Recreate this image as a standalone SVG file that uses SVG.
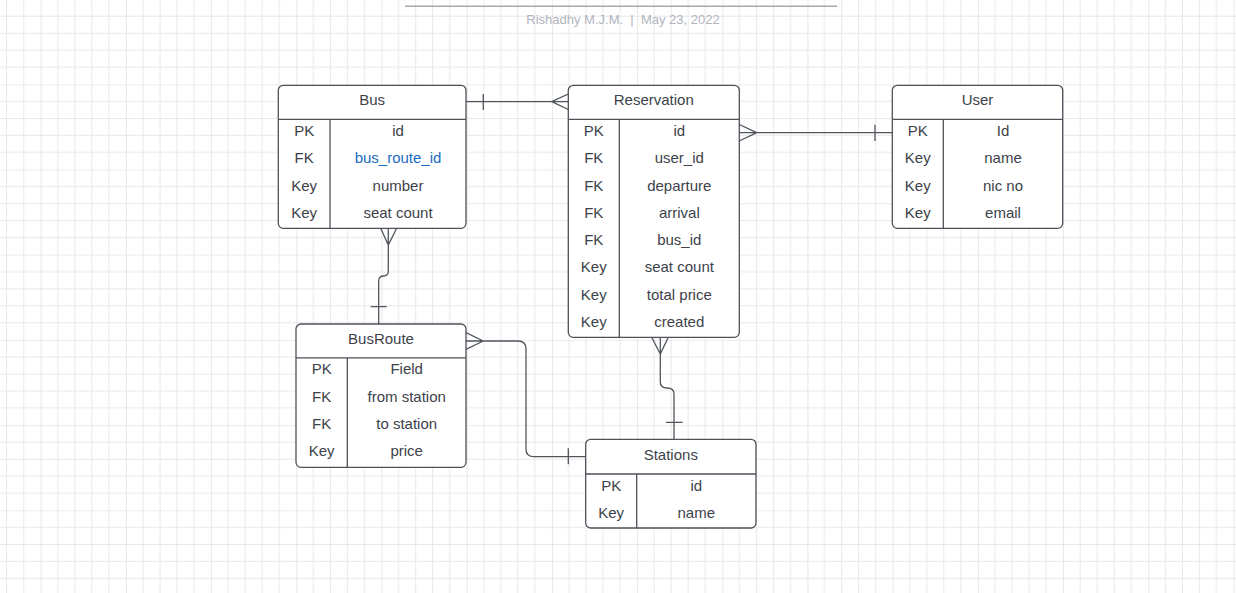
<svg xmlns="http://www.w3.org/2000/svg" width="1236" height="593" viewBox="0 0 1236 593">
<style>
.box{fill:#ffffff;stroke:#4d525a;stroke-width:1.3}
.sep{stroke:#4d525a;stroke-width:1.3;fill:none}
.t{font-family:"Liberation Sans",Arial,sans-serif;font-size:15px;fill:#3d424a;text-anchor:middle}
.lnk{fill:#1b6cc2}
.con{fill:none;stroke:#50555d;stroke-width:1.3}
.sub{font-family:"Liberation Sans",Arial,sans-serif;font-size:13px;fill:#b1b5be;text-anchor:middle;white-space:pre}
</style>
<defs>
<pattern id="grid" patternUnits="userSpaceOnUse" x="40.7" y="84.3" width="85.2" height="85.2">
<path d="M17.04 0V85.2M34.08 0V85.2M51.12 0V85.2M68.16 0V85.2M0 17.04H85.2M0 34.08H85.2M0 51.12H85.2M0 68.16H85.2" stroke="#e8e8e8" stroke-width="1" fill="none"/>
<path d="M0 0V85.2M0 0H85.2" stroke="#d9d9d9" stroke-width="1.2" fill="none"/>
</pattern>
</defs>
<rect x="0" y="0" width="1236" height="593" fill="#ffffff"/>
<rect x="0" y="0" width="1236" height="593" fill="url(#grid)"/>
<g id="title">
<line x1="405" y1="6.2" x2="837" y2="6.2" stroke="#a5a8b0" stroke-width="1.6"/>
<text class="sub" x="623" y="23.6">Rishadhy M.J.M.  |  May 23, 2022</text>
</g>
<g id="connectors">
<path class="con" d="M466 101.7H568.3M483.3 94V110M551.7 101.7L568.3 94M551.7 101.7L568.3 109.5"/>
<path class="con" d="M739.3 132.7H892.3M756.7 132.7L739.3 124.5M756.7 132.7L739.3 141M875 124.7V141"/>
<path class="con" d="M388.3 228.3V271Q388.3 276 383.5 276Q378.7 276 378.7 281V324M380.7 228.3L388.3 245L396.7 228.3M370.7 306.7H386.7"/>
<path class="con" d="M660.3 337.3V382Q660.3 388 667 388Q674 388 674 394V439.3M651.7 337.3L660.3 354L668.3 337.3M666 422.3H682.7"/>
<path class="con" d="M466 341H518Q526 341 526 349V448.7Q526 456.7 534 456.7H585.7M483.3 341L466 332.7M483.3 341L466 349.3M568.3 448.3V464.3"/>
</g>
<g id="bus">
<rect class="box" x="278.3" y="85.3" width="187.7" height="143" rx="5"/>
<path class="sep" d="M278.3 119.3H466M330 119.3V228.3"/>
<text class="t" x="372.2" y="105.3">Bus</text>
<text class="t" x="304.2" y="136">PK</text><text class="t" x="398" y="136">id</text>
<text class="t" x="304.2" y="163.2">FK</text><text class="t lnk" x="398" y="163.2">bus_route_id</text>
<text class="t" x="304.2" y="190.5">Key</text><text class="t" x="398" y="190.5">number</text>
<text class="t" x="304.2" y="217.7">Key</text><text class="t" x="398" y="217.7">seat count</text>
</g>
<g id="reservation">
<rect class="box" x="568.3" y="85.3" width="171" height="252" rx="5"/>
<path class="sep" d="M568.3 119.3H739.3M619.3 119.3V337.3"/>
<text class="t" x="653.8" y="105.3">Reservation</text>
<text class="t" x="593.8" y="136">PK</text><text class="t" x="679.3" y="136">id</text>
<text class="t" x="593.8" y="163.2">FK</text><text class="t" x="679.3" y="163.2">user_id</text>
<text class="t" x="593.8" y="190.5">FK</text><text class="t" x="679.3" y="190.5">departure</text>
<text class="t" x="593.8" y="217.7">FK</text><text class="t" x="679.3" y="217.7">arrival</text>
<text class="t" x="593.8" y="245">FK</text><text class="t" x="679.3" y="245">bus_id</text>
<text class="t" x="593.8" y="272.2">Key</text><text class="t" x="679.3" y="272.2">seat count</text>
<text class="t" x="593.8" y="299.5">Key</text><text class="t" x="679.3" y="299.5">total price</text>
<text class="t" x="593.8" y="326.7">Key</text><text class="t" x="679.3" y="326.7">created</text>
</g>
<g id="user">
<rect class="box" x="892.3" y="85.3" width="170.4" height="143" rx="5"/>
<path class="sep" d="M892.3 119.3H1062.7M943.3 119.3V228.3"/>
<text class="t" x="977.5" y="105.3">User</text>
<text class="t" x="917.8" y="136">PK</text><text class="t" x="1003" y="136">Id</text>
<text class="t" x="917.8" y="163.2">Key</text><text class="t" x="1003" y="163.2">name</text>
<text class="t" x="917.8" y="190.5">Key</text><text class="t" x="1003" y="190.5">nic no</text>
<text class="t" x="917.8" y="217.7">Key</text><text class="t" x="1003" y="217.7">email</text>
</g>
<g id="busroute">
<rect class="box" x="296" y="324" width="170" height="143.3" rx="5"/>
<path class="sep" d="M296 357.8H466M347.3 357.8V467.3"/>
<text class="t" x="381" y="344.2">BusRoute</text>
<text class="t" x="321.7" y="374.3">PK</text><text class="t" x="406.7" y="374.3">Field</text>
<text class="t" x="321.7" y="401.5">FK</text><text class="t" x="406.7" y="401.5">from station</text>
<text class="t" x="321.7" y="428.8">FK</text><text class="t" x="406.7" y="428.8">to station</text>
<text class="t" x="321.7" y="456">Key</text><text class="t" x="406.7" y="456">price</text>
</g>
<g id="stations">
<rect class="box" x="585.7" y="439.3" width="170.3" height="88.7" rx="5"/>
<path class="sep" d="M585.7 474H756M636.7 474V528"/>
<text class="t" x="670.8" y="459.7">Stations</text>
<text class="t" x="611.2" y="490.6">PK</text><text class="t" x="696.3" y="490.6">id</text>
<text class="t" x="611.2" y="517.8">Key</text><text class="t" x="696.3" y="517.8">name</text>
</g>
</svg>
